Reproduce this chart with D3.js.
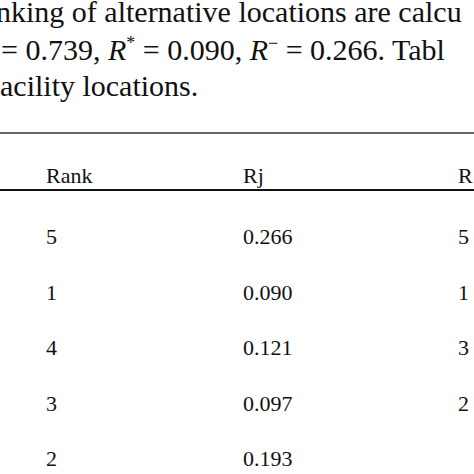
<!DOCTYPE html>
<html><head><meta charset="utf-8">
<script src="https://cdn.jsdelivr.net/npm/d3@7"></script>
<style>body{margin:0;background:#fff}svg{display:block}
text{font-family:"Liberation Serif","Times New Roman",Times,serif;fill:#111}</style>
</head><body>
<script>
// table data
var headers = ["Rank", "Rj", "R"];
var ranks = ["5", "1", "4", "3", "2"];
var rj = ["0.266", "0.090", "0.121", "0.097", "0.193"];
var rank2 = ["5", "1", "3", "2", ""];

var svg = d3.select("body").append("svg").attr("width", 474).attr("height", 474);

// paragraph above the table
var para = svg.append("g").style("font-size", "30px");
para.append("text").attr("x", -4).attr("y", 22).text("nking of alternative locations are calcu");
var l2 = para.append("text").attr("x", 1).attr("y", 60);
l2.append("tspan").text("= 0.739,  ");
l2.append("tspan").style("font-style", "italic").text("R");
l2.append("tspan").attr("dy", -11).style("font-size", "18px").text("*");
l2.append("tspan").attr("dy", 11).text(" = 0.090,  ");
l2.append("tspan").style("font-style", "italic").text("R");
l2.append("tspan").attr("dy", -11).style("font-size", "18px").text("\u2212");
l2.append("tspan").attr("dy", 11).text(" = 0.266. Tabl");
para.append("text").attr("x", 0).attr("y", 96).text("acility locations.");

// rules
svg.append("line").attr("x1", 0).attr("x2", 474).attr("y1", 133).attr("y2", 133)
    .attr("stroke", "#333").attr("stroke-width", 1.5);
svg.append("line").attr("x1", 0).attr("x2", 474).attr("y1", 190).attr("y2", 190)
    .attr("stroke", "#111").attr("stroke-width", 2);

var cols = [46, 243, 458];
var y = d3.scalePoint().domain(d3.range(ranks.length)).range([244, 466]);
var t = svg.append("g").style("font-size", "22px");
headers.forEach(function(h, i) { t.append("text").attr("x", cols[i]).attr("y", 183).text(h); });
[ranks, rj, rank2].forEach(function(col, c) {
    t.selectAll(null).data(col).enter().append("text")
        .attr("x", cols[c]).attr("y", function(d, i) { return y(i); }).text(function(d) { return d; });
});
</script>
</body></html>
